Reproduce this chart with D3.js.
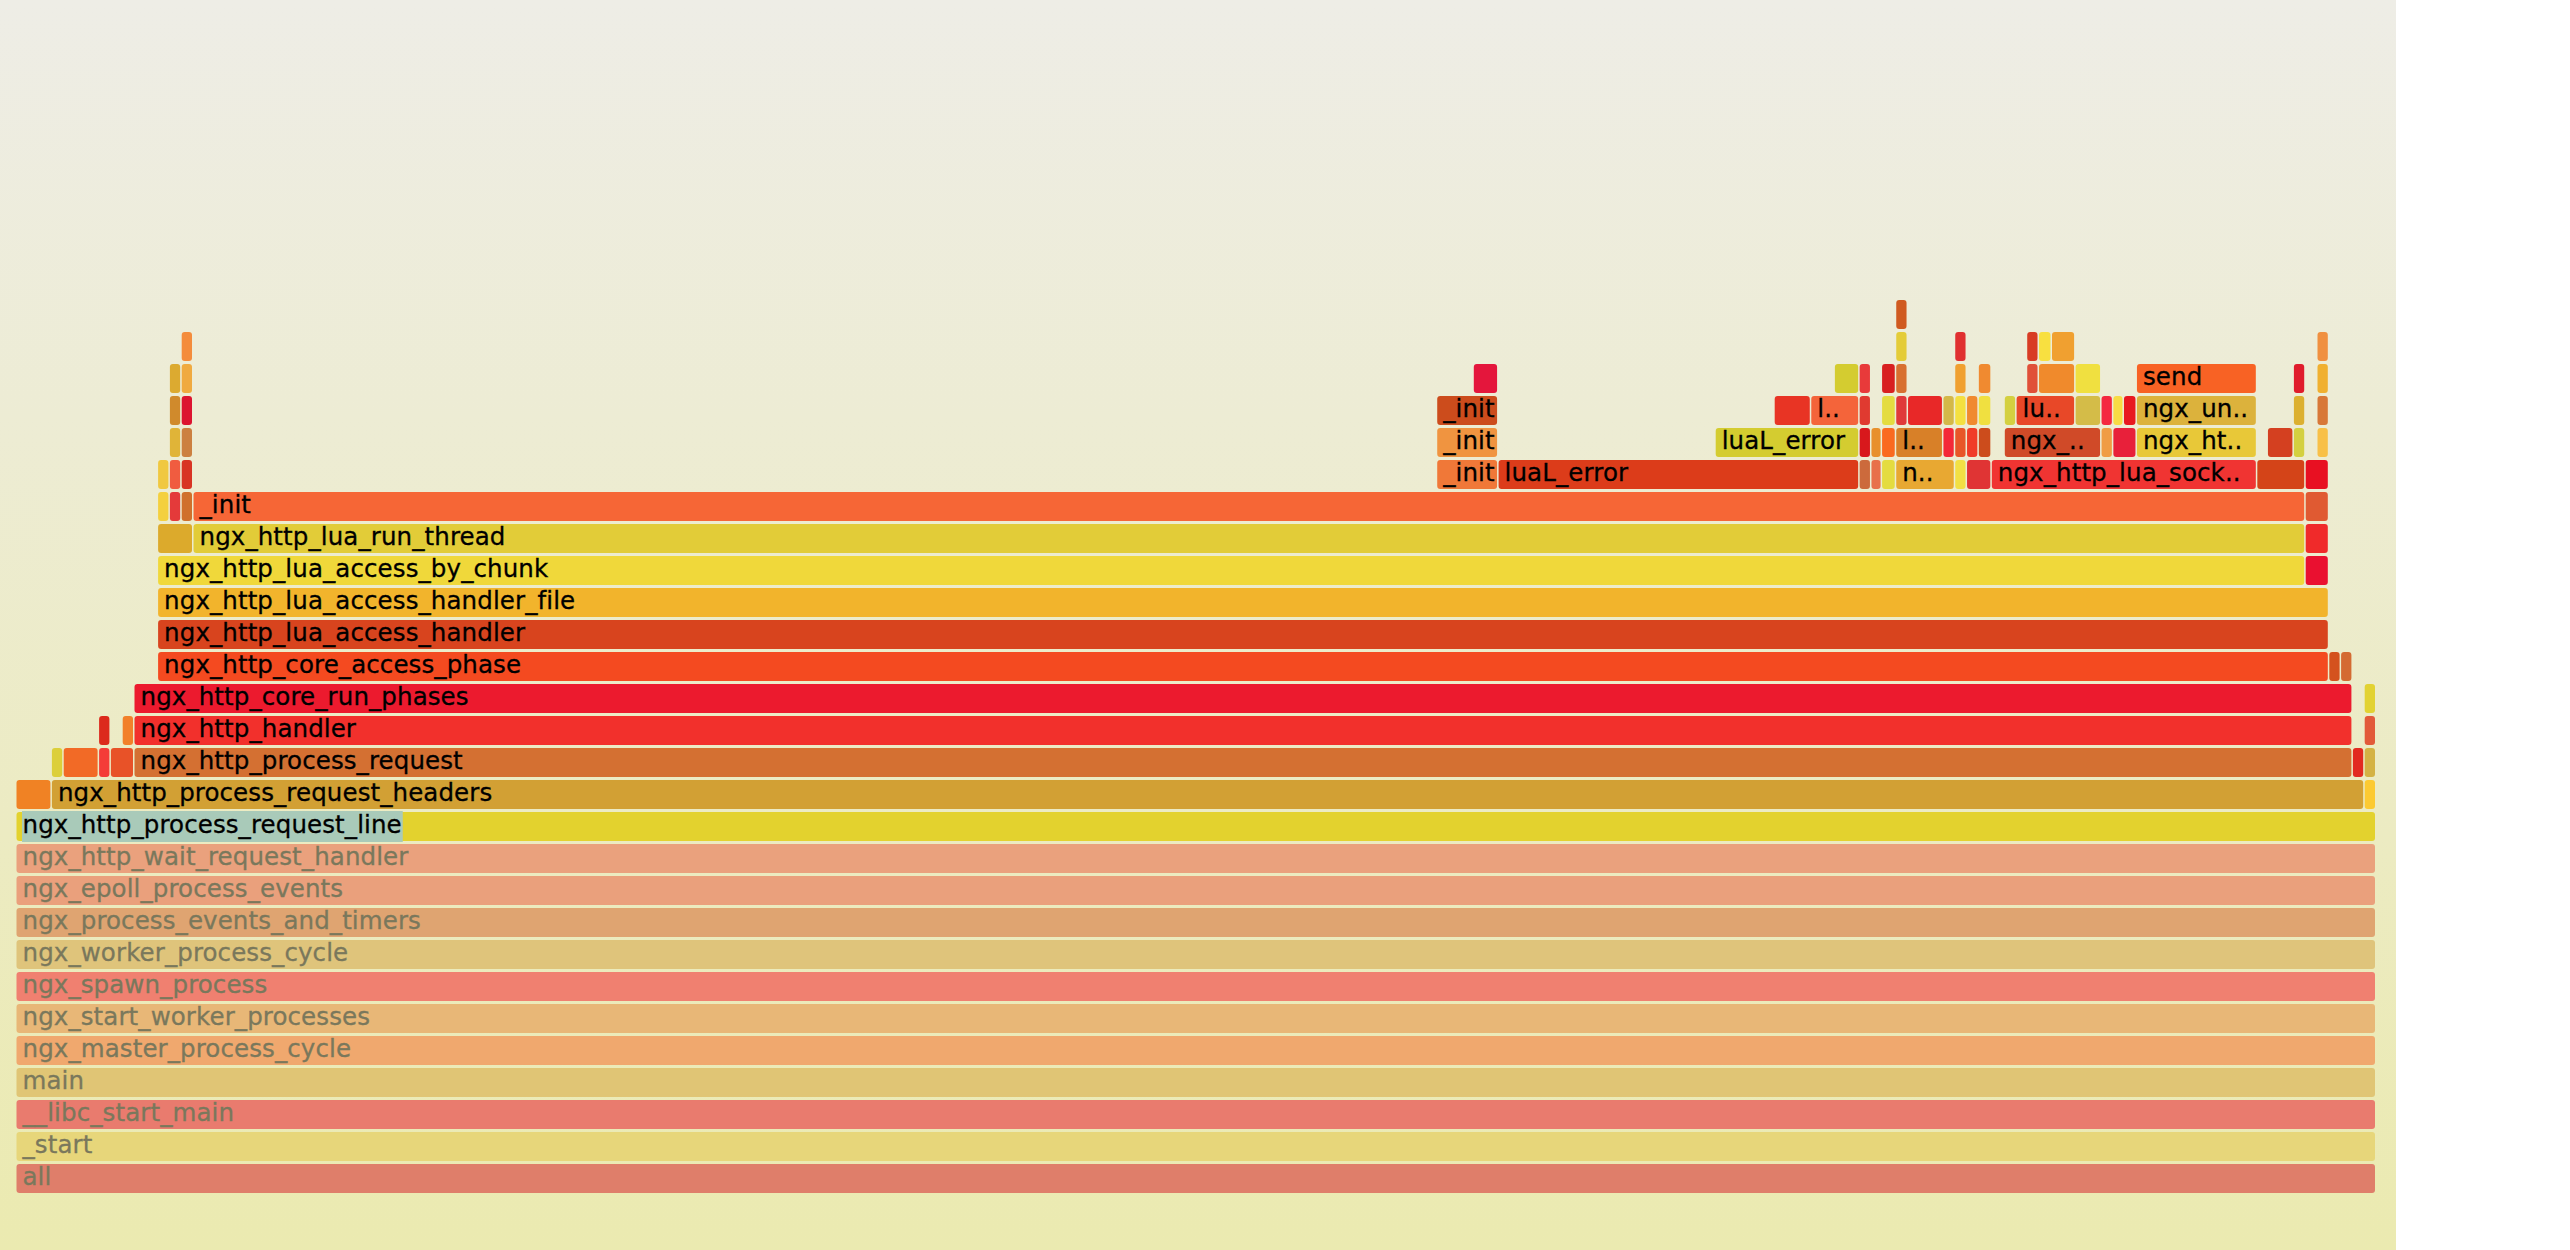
<!DOCTYPE html>
<html>
<head>
<meta charset="utf-8">
<script src="https://cdn.jsdelivr.net/npm/d3@7"></script>
<style>
  html, body { margin: 0; padding: 0; background: #ffffff; }
  svg { display: block; }
</style>
</head>
<body>
<svg id="chart" width="2570" height="1250"></svg>
<script>
// ---------------- data (x in samples, depth in stack levels) ----------------
const totalSamples = 200;          // width of the zoomed frame ngx_http_process_request_line
const zoomedDepth = 11;            // frames below this depth are faded ancestors
const highlightedLabel = "ngx_http_process_request_line";

const frameDepth = [
  0,1,2,3,4,5,6,7,8,9,10,
  11,
  12,12,12,
  13,13,13,13,13,13,13,
  14,14,14,14,
  15,15,
  16,16,16,
  17,
  18,
  19,19,
  20,20,20,
  21,21,21,21,21,
  22,22,22,22,22,22,22,22,22,22,22,22,22,22,
  23,23,23,23,23,23,23,23,23,23,23,23,23,23,23,23,23,23,23,
  24,24,24,24,24,24,24,24,24,24,24,24,24,24,24,24,24,24,24,24,24,24,
  25,25,25,25,25,25,25,25,25,25,25,25,25,25,25,
  26,26,26,26,26,26,26,
  27
];
const frameStart = [
  0,0,0,0,0,0,0,0,0,0,0,
  0,
  0,3,199,
  3,4,7,8,10,198,199,
  7,9,10,199,
  10,199,
  12,196,197,
  12,
  12,
  12,194,
  12,15,194,
  12,13,14,15,194,
  12,13,14,120.4,125.6,156.2,157.2,158.1,159.3,164.3,165.3,167.4,189.9,194,
  13,14,120.4,144,156.2,157.2,158.1,159.3,163.3,164.3,165.3,166.3,168.5,176.7,177.7,179.7,190.8,193,195,
  13,14,120.4,149,152.1,156.2,158.1,159.3,160.3,163.3,164.3,165.3,166.3,168.5,169.5,174.5,176.7,177.7,178.6,179.7,193,195,
  13,14,123.5,154.1,156.2,158.1,159.3,164.3,166.3,170.4,171.4,174.5,179.7,193,195,
  14,159.3,164.3,170.4,171.4,172.5,195,
  159.3
];
const frameSamples = [
  200,200,200,200,200,200,200,200,200,200,200,
  200,
  3,196,1,
  1,3,1,2,188,1,1,
  1,1,188,1,
  188,1,
  184,1,1,
  184,
  184,
  182,2,
  3,179,2,
  1,1,1,179,2,
  1,1,1,5.2,30.6,1,0.9,1.2,5,1,2.1,22.5,4.1,2,
  1,1,5.2,12.2,1,0.9,1.2,4,1,1,1,1.1,8.2,1,2,10.2,2.2,1,1,
  1,1,5.2,3.1,4.1,1,1.2,1,3,1,1,1,1.1,1,5,2.2,1,0.9,1.1,10.2,1,1,
  1,1,2.1,2.1,1,1.2,1,1,1.1,1,3.1,2.2,10.2,1,1,
  1,1,1,1,1.1,2,1,
  1
];
const frameLabel = [
  "all","_start","__libc_start_main","main","ngx_master_process_cycle","ngx_start_worker_processes",
  "ngx_spawn_process","ngx_worker_process_cycle","ngx_process_events_and_timers","ngx_epoll_process_events",
  "ngx_http_wait_request_handler",
  "ngx_http_process_request_line",
  "","ngx_http_process_request_headers","",
  "","","","","ngx_http_process_request","","",
  "","","ngx_http_handler","",
  "ngx_http_core_run_phases","",
  "ngx_http_core_access_phase","","",
  "ngx_http_lua_access_handler",
  "ngx_http_lua_access_handler_file",
  "ngx_http_lua_access_by_chunk","",
  "","ngx_http_lua_run_thread","",
  "","","","_init","",
  "","","","_init","luaL_error","","","","n..","","","ngx_http_lua_sock..","","",
  "","","_init","luaL_error","","","","l..","","","","","ngx_..","","","ngx_ht..","","","",
  "","","_init","","l..","","","","","","","","","","lu..","","","","","ngx_un..","","",
  "","","","","","","","","","","","","send","","",
  "","","","","","","",
  ""
];
const frameColor = [
  "#df7e6a","#e7d67a","#e97b6e","#e0c575","#f0a86e","#e8b777","#f08070","#dfc47b","#dfa471","#eaa07c","#eaa17d",
  "#e3d22e",
  "#f08224","#d2a034","#fcca32",
  "#dccf3a","#f26a26","#f43c38","#e85228","#d47032","#e22a20","#d4b244",
  "#dc2a1c","#f2802a","#f2302c","#e25a3a",
  "#ec1a2e","#e2d232",
  "#f44a20","#d4521e","#d46a32",
  "#d8441e",
  "#f2b42c",
  "#f0d83a","#ea1030",
  "#dcaa2c","#e2cc38","#f02a2a",
  "#f4d03e","#e43a3a","#d0702c","#f66636","#e05a32",
  "#f0c840","#f05c40","#d83424","#f07838","#dc3c1a","#cc6a3c","#e8704a","#e4dc40","#e8a832","#f2e044","#e03434","#f03432","#d44418","#e81022",
  "#e0b438","#cc8040","#f09440","#d4cc30","#d8181c","#e8902c","#fa6a20","#d88028","#f42838","#e85628","#f03c28","#cc4c1c","#d04a28","#f09c44","#e8203a","#e8c838","#d44020","#d4d040","#f8c048",
  "#d08a2c","#dc1430","#cc4c1c","#e83424","#f4643a","#e03a30","#e4dc40","#e03a3a","#e82828","#d4b848","#f4e040","#f08a30","#f0e040","#d4d040","#e84828","#d4bc48","#f42840","#f8dc44","#e81820","#dcb23c","#dcb030","#d87838",
  "#dcaa30","#f0aa40","#e4163c","#d4cc30","#e83a3a","#d82020","#d87030","#f0a030","#f08a30","#e05038","#f08a2c","#f0e040","#f86224","#e01c2c","#f0b030",
  "#f48c3c","#e4cc38","#e03030","#d83c24","#f8e040","#f0a030","#f09040",
  "#d05a20"
];

// ---------------- drawing ----------------
const W = 2570, H = 1250;
const svg = d3.select("#chart");
const defs = svg.append("defs");
const grad = defs.append("linearGradient").attr("id", "bg")
  .attr("x1", 0).attr("y1", 0).attr("x2", 0).attr("y2", 1);
grad.append("stop").attr("offset", "0%").attr("stop-color", "#eeede6");
grad.append("stop").attr("offset", "100%").attr("stop-color", "#ebeab0");

const plotLeft = 16, plotRight = 2376, bgRight = 2396;
svg.append("rect").attr("x", 0).attr("y", 0).attr("width", bgRight).attr("height", H).attr("fill", "url(#bg)");

const maxDepth = d3.max(frameDepth);
const x = d3.scaleLinear().domain([0, totalSamples]).range([plotLeft, plotRight]);
const rowStep = 32, cellH = 29;
const y = d3.scaleLinear().domain([0, maxDepth]).range([1164, 1164 - maxDepth * rowStep]);

const frames = frameDepth.map((d, i) => ({
  depth: d, start: frameStart[i], samples: frameSamples[i],
  label: frameLabel[i], color: frameColor[i], faded: d < zoomedDepth
}));

const g = svg.append("g").attr("class", "flame");
const node = g.selectAll("g.frame").data(frames).join("g").attr("class", "frame")
  .attr("transform", d => `translate(${x(d.start)},${y(d.depth)})`);

node.append("rect")
  .attr("x", 0.5)
  .attr("y", 0)
  .attr("width", d => Math.max(0, x(d.start + d.samples) - x(d.start) - 1.5))
  .attr("height", cellH)
  .attr("rx", 3).attr("ry", 3)
  .attr("fill", d => d.color);

const labelled = node.filter(d => d.label !== "");
labelled.append("text")
  .attr("x", 6.5)
  .attr("y", 21)
  .attr("font-family", "'DejaVu Sans', Verdana, sans-serif")
  .attr("font-size", 24.5)
  .attr("letter-spacing", 0.1)
  .attr("fill", d => d.faded ? "#7a785c" : "#000000")
  .attr("stroke", d => d.faded ? "#7a785c" : "#000000")
  .attr("stroke-width", 0.3)
  .text(d => d.label);

// search highlight behind the matched label
labelled.filter(d => d.label === highlightedLabel).each(function () {
  const t = d3.select(this).select("text");
  const bb = t.node().getBBox();
  d3.select(this).insert("rect", "text")
    .attr("x", bb.x - 0.5)
    .attr("y", -1)
    .attr("width", bb.width + 1.5)
    .attr("height", cellH + 2)
    .attr("fill", "#a9cab9");
});
</script>
</body>
</html>
